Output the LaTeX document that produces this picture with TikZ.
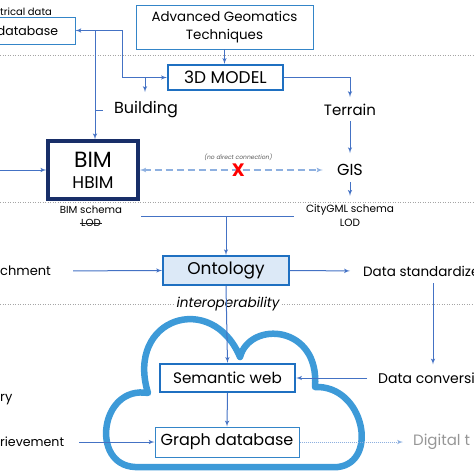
\documentclass[tikz,border=0pt]{standalone}
\usepackage{fontspec}
\setmainfont{Poppins}
\usetikzlibrary{shapes,arrows}
\definecolor{linblue}{RGB}{68,114,196}
\definecolor{boxblue}{RGB}{52,133,200}
\definecolor{deepblue}{RGB}{31,112,193}
\definecolor{navy}{RGB}{24,46,104}
\definecolor{cloudblue}{RGB}{61,154,216}
\definecolor{ontofill}{RGB}{220,233,247}
\definecolor{dashblue}{RGB}{142,176,224}
\definecolor{sepgray}{RGB}{165,165,165}
\definecolor{txt}{RGB}{30,30,30}
\definecolor{notegray}{RGB}{90,90,90}
\definecolor{fadegray}{RGB}{150,150,150}
\newcommand{\fsz}[2]{\fontsize{#1}{#2}\selectfont}

\begin{document}
\begin{tikzpicture}[x=1pt,y=-1pt,>=latex',font=\color{txt}]
	\tikzstyle{thinbox} = [draw=boxblue, shape=rectangle, line width=0.9pt, inner sep=0pt, align=center]
	\tikzstyle{thickbox} = [draw=deepblue, shape=rectangle, line width=2.2pt, inner sep=0pt]
	\tikzstyle{plain} = [inner sep=0pt, align=center]
	\tikzstyle{conn} = [draw=linblue, line width=1pt]
	\tikzstyle{sep} = [draw=sepgray, line width=0.5pt, dotted]
	\useasboundingbox (0,0) rectangle (474,474);
	%Separators
	\draw[sep] (0,55) -- (474,55);
	\draw[sep] (0,202) -- (474,202);
	%Cloud
	\draw[cloudblue, line width=6.5pt, line join=round]
		(135,467) .. controls (90,465) and (100,385) .. (148,393)
		.. controls (125,318) and (212,290) .. (240,357)
		.. controls (250,320) and (320,325) .. (315,387)
		.. controls (364,385) and (379,462) .. (338,467) -- cycle;
	%Creating Blocks and Labels
	\node[plain, anchor=west, font=\fsz{10}{12}] (histtxt) at (0,12) {trical data};
	\node[thinbox, minimum width=95pt, minimum height=27pt, font=\fsz{12.5}{15}] (histdb) at (27.5,30.5) {database};
	\node[thinbox, minimum width=177pt, minimum height=44pt, font=\fsz{13.4}{18}] (geomatics) at (224.5,27) {Advanced Geomatics\\Techniques};
	\node[thickbox, minimum width=115pt, minimum height=25pt, font=\fsz{17}{19}] (model) at (225.5,77.5) {3D MODEL};
	\node[plain, font=\fsz{16}{18}] (building) at (146,110) {Building};
	\node[plain, font=\fsz{15}{17}] (terrain) at (350,110) {Terrain};
	\node[draw=navy, line width=3.5pt, minimum width=90pt, minimum height=58pt, inner sep=0pt, align=center, font=\fsz{22}{23}] (bim) at (93,170) {BIM\\[-2pt]{\fsz{17}{20}HBIM}};
	\node[plain, font=\fsz{16}{18}] (gis) at (350,170) {GIS};
	\node[plain, font=\fsz{10.2}{12}] (bimschema) at (91,210) {BIM schema};
	\node[plain, font=\fsz{10.2}{12}] (bimlod) at (91,223) {LOD};
	\node[plain, font=\fsz{10.5}{14}] (citygml) at (350,216) {CityGML schema\\LOD};
	\node[draw=deepblue, fill=ontofill, line width=1.8pt, minimum width=126pt, minimum height=29pt, inner sep=0pt, font=\fsz{17}{19}] (ontology) at (226,270.5) {Ontology};
	\node[plain, anchor=west, font=\fsz{13}{15}] (enrich) at (0,271) {chment};
	\node[plain, anchor=west, font=\fsz{13.5}{16}] (stdz) at (363,271) {Data standardize};
	\node[plain, font=\fsz{13.6}{16}\itshape] (interop) at (228,304) {interoperability};
	\node[thickbox, minimum width=135pt, minimum height=28pt, font=\fsz{15.2}{17}] (semweb) at (227.5,378) {Semantic web};
	\node[thinbox, line width=1pt, minimum width=144pt, minimum height=30pt, font=\fsz{16}{18}] (graphdb) at (227,442) {Graph database};
	\node[plain, anchor=west, font=\fsz{14}{16}] (conv) at (378,378) {Data conversi};
	\node[plain, anchor=west, font=\fsz{13}{15}] (query) at (0,400) {ry};
	\node[plain, anchor=west, font=\fsz{12.6}{15}] (retr) at (0,442) {rievement};
	\node[plain, anchor=west, text=fadegray, font=\fsz{15}{17}] (digital) at (413,442) {Digital t};
	\draw[txt, line width=0.6pt] ([xshift=-1pt]bimlod.west) -- ([xshift=1pt]bimlod.east);
	\draw[sep] (0,304) -- ([xshift=-2pt]interop.west);
	\draw[sep] ([xshift=2pt]interop.east) -- (474,304);
	\coordinate (dbjoin) at (122,30.5);
	\coordinate (bimdrop) at (95,30.5);
	\coordinate (bldsplit) at (145,77.5);
	\coordinate (bldend) at (145,92);
	\coordinate (bimfeed) at (0,170);
	%Conecting Blocks
	\begin{scope}[conn]
	\draw[->] (geomatics.south) -- (geomatics.south |- model.north);
	\draw[<->] (histdb.east) -- (dbjoin) |- (model.west);
	\draw[->] (bimdrop) -- (bimdrop |- bim.north);
	\draw (bimdrop |- building) -- ++(8,0);
	\draw[->] (bldsplit) -- (bldend);
	\draw[->, shorten >=7pt] (model.east) -| (terrain.north);
	\draw[->, shorten <=5pt, shorten >=11pt] (terrain) -- (gis);
	\draw[->, shorten <=6pt, shorten >=9pt] (gis) -- (citygml);
	\draw[->] (bimfeed) -- (bim.west);
	\draw[shorten <=19pt, shorten >=12pt] (bimschema.east |- citygml.west) -- (citygml.west);
	\draw[->] (ontology.north |- citygml.west) -- (ontology.north);
	\draw[->, shorten <=22pt] (enrich.east) -- (ontology.west);
	\draw[->, shorten >=13pt] (ontology.east) -- (stdz.west);
	\draw[->, shorten <=7pt, shorten >=8pt] ([xshift=70pt]stdz.south west) -- ([xshift=55pt]conv.north west);
	\draw[->] (ontology.south) -- (semweb.north);
	\draw[->, shorten <=11pt] (conv.west) -- (semweb.east);
	\draw[->] (semweb.south) -- (graphdb.north);
	\draw[->, shorten <=15pt] (retr.east) -- (graphdb.west);
	\draw[->, dashblue, densely dotted, shorten >=10pt] (graphdb.east) -- (digital.west);
	\end{scope}
	\draw[<->, dashblue, line width=1.2pt, dash pattern=on 7pt off 4pt, shorten >=14pt] (bim.east) -- (gis.west)
		node[midway, text=red, inner sep=0pt, font=\fsz{18}{18}\bfseries] (nox) {X}
		node[midway, above=9pt, inner sep=0pt, text=notegray, font=\fsz{6}{7}\itshape] (nolink) {(no direct connection)};
\end{tikzpicture}
\end{document}
